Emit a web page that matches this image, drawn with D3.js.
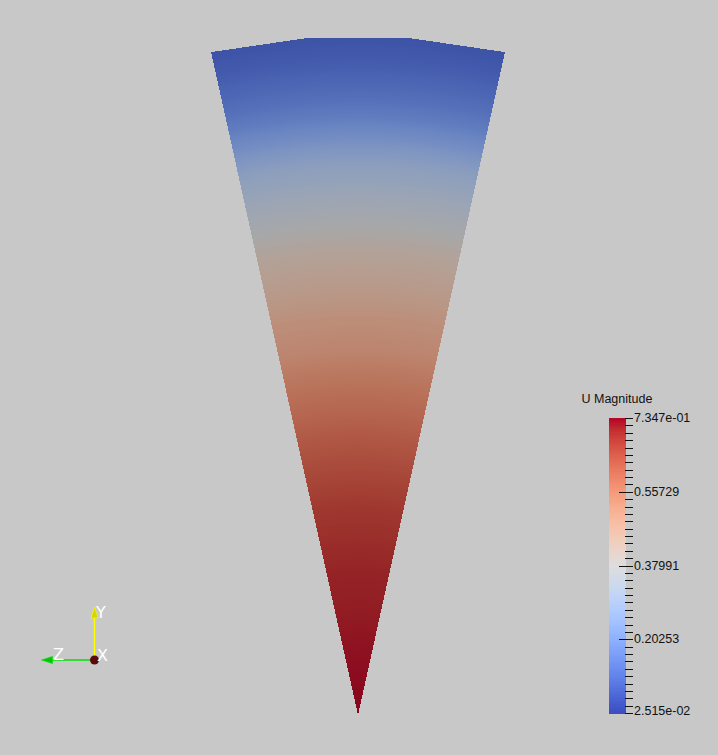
<!DOCTYPE html>
<html>
<head>
<meta charset="utf-8">
<script src="https://cdn.jsdelivr.net/npm/d3@7"></script>
<style>
  html, body { margin: 0; padding: 0; background: #c8c8c8; }
  svg { display: block; }
</style>
</head>
<body>
<svg id="chart" width="718" height="755"></svg>
<script>
// ---------------- data ----------------
const fieldName = "U Magnitude";
const uRange = [0.02515, 0.7347];
const legendLabels = ["7.347e-01", "0.55729", "0.37991", "0.20253", "2.515e-02"];
const legendLabelValues = [0.7347, 0.55729, 0.37991, 0.20253, 0.02515];
const minorTickCount = 40;

// U magnitude profile along the wedge: fraction of radial distance from the tip
const radialPos = [0.0, 0.062, 0.111, 0.160, 0.210, 0.258, 0.307, 0.357, 0.406, 0.455, 0.505,
                   0.535, 0.585, 0.634, 0.682, 0.718, 0.756, 0.807, 0.830, 0.855, 0.880, 0.904, 0.954, 1.0];
const uMagnitude = [0.7347, 0.727, 0.721, 0.713, 0.706, 0.692, 0.676, 0.649, 0.621, 0.586, 0.550,
                    0.520, 0.490, 0.450, 0.420, 0.380, 0.344, 0.295, 0.262, 0.218, 0.178, 0.148, 0.104, 0.076];

// wedge geometry (model units): half-angle in degrees, number of arc segments
const wedgeHalfAngle = 12.5;
const arcSegments = 3;

// Cool to Warm colormap
const coolWarmPos = [0, 0.03125, 0.0625, 0.09375, 0.125, 0.15625, 0.1875, 0.21875, 0.25, 0.28125,
  0.3125, 0.34375, 0.375, 0.40625, 0.4375, 0.46875, 0.5, 0.53125, 0.5625, 0.59375, 0.625,
  0.65625, 0.6875, 0.71875, 0.75, 0.78125, 0.8125, 0.84375, 0.875, 0.90625, 0.9375, 0.96875, 1];
const coolWarmRGB = [
  [59,76,192],[68,90,204],[77,104,215],[87,117,225],[98,130,234],[108,142,241],[119,154,247],
  [130,165,251],[141,176,254],[152,185,255],[163,194,255],[174,201,253],[184,208,249],
  [194,213,244],[204,217,238],[213,219,230],[221,221,221],[229,216,209],[236,211,197],
  [241,204,185],[245,196,173],[247,187,160],[247,177,148],[247,166,135],[244,154,123],
  [241,141,111],[236,127,99],[229,112,88],[222,96,77],[213,80,66],[203,62,56],[192,40,47],[180,4,38]];

// triad axes (direction in screen, label)
const triadAxes = [
  {label: "Y", dx: 0, dy: -1, color: "#ffff00", cone: "#d6d600"},
  {label: "Z", dx: -1, dy: 0, color: "#00e000", cone: "#00c800"}
];

// ---------------- drawing ----------------
const svg = d3.select("#chart");
const defs = svg.append("defs");
const W = 718, H = 755;

svg.append("rect").attr("width", W).attr("height", H).attr("fill", "#c8c8c8");

const uSpan = uRange[1] - uRange[0];
const colorScale = d3.scaleLinear()
  .domain(coolWarmPos.map(t => uRange[0] + t * uSpan))
  .range(coolWarmRGB.map(c => d3.rgb(c[0], c[1], c[2])))
  .interpolate(d3.interpolateRgb)
  .clamp(true);

const shade = 0.76;
const shaded = v => {
  const c = d3.rgb(colorScale(v));
  return d3.rgb(c.r * shade, c.g * shade, c.b * shade).formatHex();
};

// model -> screen scales
const R = 679;
const xModel = d3.scaleLinear().domain([-1, 1]).range([358 - R, 358 + R]);
const yModel = d3.scaleLinear().domain([0, 1]).range([715, 715 - R]);

const profile = d3.scaleLinear().domain(radialPos).range(uMagnitude).clamp(true);

// radial gradient centered at tip
const grad = defs.append("radialGradient")
  .attr("id", "wedgeGrad")
  .attr("gradientUnits", "userSpaceOnUse")
  .attr("cx", xModel(0)).attr("cy", yModel(0))
  .attr("fx", xModel(0)).attr("fy", yModel(0))
  .attr("r", yModel(0) - yModel(1));
d3.range(0, 201).forEach(i => {
  const s = i / 200;
  grad.append("stop").attr("offset", s).attr("stop-color", shaded(profile(s)));
});

// wedge outline
const pts = [[0, 0]];
for (let k = 0; k <= arcSegments; k++) {
  const a = (-wedgeHalfAngle + k * (2 * wedgeHalfAngle / arcSegments)) * Math.PI / 180;
  pts.push([Math.sin(a), Math.cos(a)]);
}
const line = d3.line().x(d => xModel(d[0])).y(d => yModel(d[1]));
svg.append("path")
  .attr("d", line(pts) + "Z")
  .attr("fill", "url(#wedgeGrad)")
  .attr("shape-rendering", "crispEdges");

// ---------------- legend ----------------
const barX = 609, barW = 17;
const legendY = d3.scaleLinear().domain(uRange).range([713, 418]);
const g = svg.append("g");

const nBands = 128;
d3.range(nBands).forEach(i => {
  const v0 = uRange[0] + i * uSpan / nBands;
  const v1 = uRange[0] + (i + 1) * uSpan / nBands;
  g.append("rect")
    .attr("x", barX).attr("width", barW)
    .attr("y", legendY(v1)).attr("height", legendY(v0) - legendY(v1) + 0.6)
    .attr("fill", colorScale((v0 + v1) / 2))
    .attr("shape-rendering", "crispEdges");
});

// ticks
d3.range(minorTickCount + 1).forEach(i => {
  const v = uRange[0] + i * uSpan / minorTickCount;
  const major = (i % 10 === 0) && i !== 0 && i !== minorTickCount;
  const y = Math.round(legendY(v)) + 0.5;
  g.append("line")
    .attr("x1", major ? 619 : 625).attr("x2", 633)
    .attr("y1", y).attr("y2", y)
    .attr("stroke", "#111").attr("stroke-width", 1);
});

// labels
legendLabels.forEach((lab, i) => {
  let y = legendY(legendLabelValues[i]);
  if (i === 0) y -= 0.5;
  if (i === legendLabels.length - 1) y -= 2;
  g.append("text")
    .attr("x", 634).attr("y", y)
    .attr("dominant-baseline", "central")
    .attr("font-family", "Liberation Sans, Arial, sans-serif")
    .attr("font-size", 12.5)
    .attr("fill", "#111")
    .text(lab);
});

g.append("text")
  .attr("x", 581.5).attr("y", 402.5)
  .attr("font-family", "Liberation Sans, Arial, sans-serif")
  .attr("font-size", 12.5)
  .attr("fill", "#111")
  .text(fieldName);

// ---------------- orientation triad ----------------
const ox = 94.5, oy = 660;
const axLen = 42, coneLen = 11, coneHalf = 3.6;
const triad = svg.append("g");
triadAxes.forEach(ax => {
  const ex = ox + ax.dx * axLen, ey = oy + ax.dy * axLen;
  triad.append("line")
    .attr("x1", ox).attr("y1", oy).attr("x2", ex).attr("y2", ey)
    .attr("stroke", ax.color).attr("stroke-width", 1.4);
  const tx = ex + ax.dx * coneLen, ty = ey + ax.dy * coneLen;
  const px = -ax.dy, py = ax.dx;
  triad.append("path")
    .attr("d", `M${tx},${ty}L${ex + px * coneHalf},${ey + py * coneHalf}L${ex - px * coneHalf},${ey - py * coneHalf}Z`)
    .attr("fill", ax.cone).attr("stroke", ax.color).attr("stroke-width", 0.6);
});
triad.append("circle")
  .attr("cx", ox).attr("cy", oy).attr("r", 4.5)
  .attr("fill", "#5a0a0a");

const triadFont = {family: "DejaVu Sans, sans-serif", size: 16};
[["Y", 96, 618], ["X", 97, 660.5], ["Z", 53, 659.5]].forEach(d => {
  triad.append("text")
    .attr("x", d[1]).attr("y", d[2])
    .attr("font-family", triadFont.family)
    .attr("font-size", triadFont.size)
    .attr("fill", "#ffffff")
    .text(d[0]);
});
</script>
</body>
</html>
